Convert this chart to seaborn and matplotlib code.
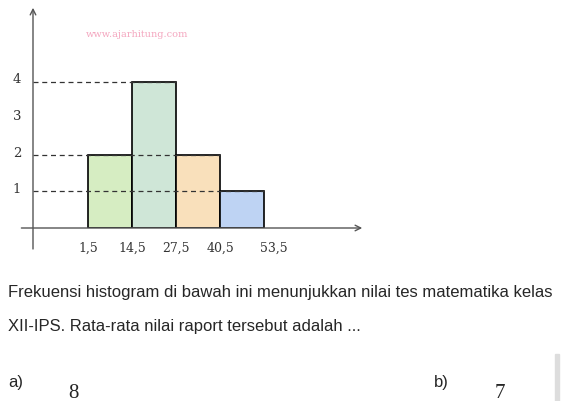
import matplotlib
matplotlib.use("Agg")
import matplotlib.pyplot as plt
import seaborn as sns
import pandas as pd

edges = [1.5, 14.5, 27.5, 40.5]
freq = [2, 4, 2, 1]
colors = ["#d6edc2", "#cfe6d7", "#f9e0bb", "#bed3f3"]
xticklabels = ["1,5", "14,5", "27,5", "40,5", "53,5"]
ytick_vals = [1, 2, 3, 4]

sns.set_style("white")
W, H = 568, 401
fig = plt.figure(figsize=(W/100, H/100), dpi=100)

def px(x0, y0, x1, y1):
    return [x0/W, 1 - y1/H, (x1-x0)/W, (y1-y0)/H]

ax = fig.add_axes(px(33, 5, 365, 228))
ax.set_xlim(-14.75, 83.3)
ax.set_ylim(0, 6.1)
ax.axis("off")

df = pd.DataFrame({"x": edges, "f": freq})
for (_, r), c in zip(df.iterrows(), colors):
    ax.bar(r["x"], r["f"], width=13, align="edge", color=c, edgecolor="black", linewidth=1.2, zorder=2)
for v, top in [(4, 27.5), (2, 40.5), (1, 53.5)]:
    ax.plot([-14.75, top], [v, v], ls=(0, (4, 3)), color="#333333", lw=0.9, zorder=3)

ax.annotate("", xy=(83.3, 0), xytext=(-19, 0), xycoords="data",
            arrowprops=dict(arrowstyle="->", color="#555555", lw=1), annotation_clip=False)
ax.annotate("", xy=(-14.75, 6.1), xytext=(-14.75, -0.65),
            arrowprops=dict(arrowstyle="->", color="#555555", lw=1), annotation_clip=False)

for v in ytick_vals:
    ax.text(-19.5, v + 0.05, str(v), ha="center", va="center", fontsize=9.5, family="DejaVu Serif", color="#333333")
for x, lab in zip(edges + [53.5], xticklabels):
    ax.text(x + (3 if lab == "53,5" else 0), -0.55, lab, ha="center", va="center", fontsize=9, family="DejaVu Serif", color="#333333")
ax.text(1, 5.3, "www.ajarhitung.com", fontsize=7, family="DejaVu Serif", color="#f4a6bf", va="center")

sans = "Liberation Sans"
fig.text(8/W, 1 - 293/H, "Frekuensi histogram di bawah ini menunjukkan nilai tes matematika kelas", fontsize=12, family=sans, va="center")
fig.text(8/W, 1 - 327/H, "XII-IPS. Rata-rata nilai raport tersebut adalah ...", fontsize=12, family=sans, va="center")
fig.text(8/W, 1 - 383/H, "a)", fontsize=12, family=sans, va="center")
fig.text(434/W, 1 - 383/H, "b)", fontsize=12, family=sans, va="center")
fig.text(68/W, 1 - 394/H, "8", fontsize=15, family="Liberation Serif", va="center")
fig.text(495/W, 1 - 394/H, "7", fontsize=15, family="Liberation Serif", va="center")
fig.patches.append(plt.Rectangle((555/W, 0), 4/W, 47/H, transform=fig.transFigure, color="#dddddd"))

fig.savefig("out.png", dpi=100)
